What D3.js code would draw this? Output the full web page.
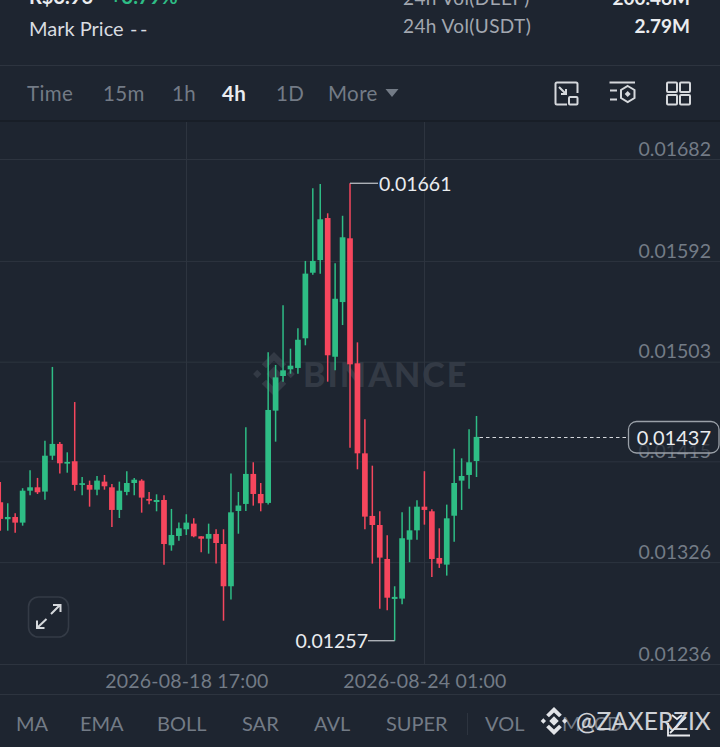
<!DOCTYPE html>
<html>
<head>
<meta charset="utf-8">
<script src="https://cdn.jsdelivr.net/npm/d3@7"></script>
<style>
  html, body { margin: 0; padding: 0; background: #1e2530; }
  svg { display: block; }
  text { font-family: Lato, "Noto Sans", sans-serif; }
</style>
</head>
<body>
<svg id="chart" width="720" height="747"></svg>
<script>
/*
Candle values, one list per field, oldest first */
var opens = [0.013793,0.013643,0.013663,0.013613,0.013895,0.013925,0.013887,0.014204,0.014308,0.014134,0.014155,0.013946,0.013946,0.013904,0.013975,0.013925,0.013725,0.013884,0.013963,0.013984,0.013822,0.013795,0.013813,0.013413,0.013495,0.013554,0.013604,0.013492,0.013471,0.013513,0.013424,0.013051,0.013716,0.013778,0.014043,0.013866,0.013787,0.014602,0.014908,0.014967,0.014979,0.015241,0.01582,0.015932,0.016303,0.015078,0.015561,0.016124,0.01502,0.014225,0.013672,0.013592,0.013292,0.012939,0.012942,0.013462,0.013545,0.013754,0.013713,0.013301,0.013242,0.013674,0.013984,0.014034,0.014157];
var highs = [0.013972,0.013784,0.013696,0.013917,0.014075,0.014008,0.014337,0.014988,0.014326,0.014234,0.014678,0.014016,0.013984,0.014025,0.014034,0.013955,0.013975,0.014067,0.014008,0.013996,0.013884,0.013863,0.013855,0.013734,0.013613,0.013687,0.013651,0.013492,0.013604,0.013554,0.013554,0.014046,0.013884,0.014455,0.014146,0.013963,0.015117,0.015005,0.015532,0.015149,0.015329,0.015924,0.016565,0.016603,0.016345,0.015903,0.016323,0.01661,0.015205,0.014526,0.014116,0.013713,0.013501,0.013051,0.013704,0.013754,0.01381,0.014067,0.013731,0.013563,0.013772,0.014266,0.014181,0.014437,0.014555];
var lows = [0.013542,0.013542,0.013524,0.013586,0.013855,0.013866,0.013816,0.014167,0.014046,0.014054,0.013895,0.013855,0.013754,0.013855,0.013904,0.013575,0.013654,0.013855,0.013855,0.013701,0.013775,0.013713,0.013242,0.013365,0.013454,0.013504,0.013484,0.013351,0.013339,0.013251,0.012747,0.012933,0.013515,0.013716,0.013763,0.013713,0.013772,0.014328,0.014858,0.014928,0.014928,0.015179,0.015803,0.015812,0.014858,0.014958,0.015358,0.014275,0.014084,0.013554,0.013251,0.012853,0.012839,0.01257,0.012892,0.013263,0.013462,0.013595,0.013133,0.013213,0.013145,0.013445,0.013725,0.013913,0.014016];
var closes = [0.013646,0.013663,0.013613,0.013895,0.013925,0.013881,0.014204,0.014308,0.014137,0.014149,0.013946,0.013961,0.013904,0.013984,0.013934,0.013725,0.013895,0.013963,0.013992,0.013834,0.013807,0.013813,0.013424,0.013504,0.013563,0.013613,0.013492,0.013471,0.013513,0.013433,0.013051,0.013704,0.013764,0.014043,0.013866,0.013784,0.014608,0.014896,0.014958,0.014999,0.015228,0.015812,0.015924,0.016292,0.015091,0.01559,0.016133,0.015011,0.014225,0.013666,0.013592,0.013304,0.01295,0.012957,0.013475,0.013545,0.013754,0.013725,0.013292,0.013251,0.013651,0.013963,0.014025,0.014146,0.01437];

/*
Axis labels */
var priceTicks = [0.01682, 0.01592, 0.01503, 0.01415, 0.01326, 0.01236];
var timeTickIndex = [25, 57];
var timeTickLabels = ["2026-08-18 17:00", "2026-08-24 01:00"];
var highestIndex = 47, lowestIndex = 53;

var tabs = ["Time", "15m", "1h", "4h", "1D", "More"];
var tabX = [27, 103, 172, 222, 276, 328];
var indicators = ["MA", "EMA", "BOLL", "SAR", "AVL", "SUPER", "VOL", "MACD"];
var indicatorX = [16, 80, 157, 242, 314, 386, 485, 562];

var BG = "#1e2530", GRID = "#2d343f", GREEN = "#2ebd85", RED = "#f6465d";

var svg = d3.select("#chart");
svg.append("rect").attr("width", 720).attr("height", 747).attr("fill", BG);

/* scales: candle index to x, price to y */
var x = d3.scaleLinear().domain([0, 64]).range([0.3, 476.5]);
var y = d3.scaleLinear().domain([0.01682, 0.01236]).range([159.5, 664.5]);

function label(parent, text, px, py, size, color, weight, anchor) {
	return parent.append("text").text(text).attr("x", px).attr("y", py)
		.attr("font-size", size).attr("fill", color)
		.attr("font-weight", weight || 400)
		.attr("text-anchor", anchor || "start");
}

/* ---- header, clipped off by the top of the photo ---- */
label(svg, "R$3.96", 29, 4, 20, "#eaecef", 700);
label(svg, "+3.79%", 110, 4, 20, GREEN, 700);
label(svg, "24h Vol(DEEP)", 403, 5, 19, "#a3a8b0").attr("letter-spacing", 0.4);
label(svg, "200.46M", 690, 5, 19, "#eaecef", 700, "end");
label(svg, "Mark Price", 29, 36, 20, "#d9dce0");
label(svg, "--", 130, 36, 20, "#d9dce0").attr("letter-spacing", 2.5);
label(svg, "24h Vol(USDT)", 403, 33, 19, "#a3a8b0").attr("letter-spacing", 0.4);
label(svg, "2.79M", 690, 33, 19, "#eaecef", 700, "end");

/* ---- separators ---- */
var seps = svg.append("g").attr("stroke", GRID);
[65.5, 694.5].forEach(function(py) {
	seps.append("line").attr("x1", 0).attr("x2", 720).attr("y1", py).attr("y2", py);
});
seps.append("line").attr("x1", 0).attr("x2", 720).attr("y1", 121).attr("y2", 121)
	.attr("stroke", "#181e27").attr("stroke-width", 2);

/* ---- timeframe tabs ---- */
tabs.forEach(function(t, i) {
	var active = t === "4h";
	label(svg, t, tabX[i], 101, 20.5, active ? "#eaecef" : "#737b86", active ? 700 : 400)
		.attr("letter-spacing", 0.4);
});
svg.append("path").attr("d", "M385.5 89 L398.5 89 L392 97 Z").attr("fill", "#737b86");

/* ---- toolbar icons ---- */
var icons = svg.append("g").attr("fill", "none").attr("stroke", "#d5d8dc").attr("stroke-width", 2);
icons.append("path").attr("d", "M567 104.5 H557 Q555.5 104.5 555.5 103 V84 Q555.5 82.5 557 82.5 H576 Q577.5 82.5 577.5 84 V93");
icons.append("rect").attr("x", 569).attr("y", 97).attr("width", 8.5).attr("height", 7.5).attr("rx", 1);
icons.append("path").attr("d", "M559 87 L566 94 M566 89 V94 H561");
icons.append("path").attr("d", "M609.5 82.5 H635 M610 90.5 H617 M610 99.5 H617");
icons.append("path").attr("d", "M627.7 86 L634.5 90 V98 L627.7 102 L621 98 V90 Z");
icons.append("path").attr("d", "M627.7 91 L630.7 94 L627.7 97 L624.7 94 Z").attr("fill", "#d5d8dc").attr("stroke", "none");
[667, 680].forEach(function(px) {
	[82.5, 95].forEach(function(py) {
		icons.append("rect").attr("x", px).attr("y", py).attr("width", 10).attr("height", 9.5).attr("rx", 1);
	});
});

/* ---- gridlines ---- */
var grid = svg.append("g").attr("stroke", GRID).attr("stroke-width", 1);
grid.selectAll(".h").data(priceTicks).enter().append("line").attr("class", "h")
	.attr("x1", 0).attr("x2", 720)
	.attr("y1", function(d) { return y(d); })
	.attr("y2", function(d) { return y(d); });
grid.selectAll(".v").data(timeTickIndex).enter().append("line").attr("class", "v")
	.attr("y1", 122).attr("y2", 665)
	.attr("x1", function(d) { return Math.round(x(d)) + 0.5; })
	.attr("x2", function(d) { return Math.round(x(d)) + 0.5; });

/* ---- watermark under the candles ---- */
var mark = "#333a45";
function binanceLogo(parent, cx, cy, s, fill, opacity) {
	var g = parent.append("g").attr("transform", "translate(" + cx + "," + cy + ") scale(" + s + ")")
		.attr("fill", fill).attr("opacity", opacity || 1);
	[[0, 0, 3.4], [-7.6, 0, 1.9], [7.6, 0, 1.9]].forEach(function(p) {
		g.append("path").attr("d", "M" + p[0] + " " + (p[1] - p[2]) + " L" + (p[0] + p[2]) + " " + p[1] +
			" L" + p[0] + " " + (p[1] + p[2]) + " L" + (p[0] - p[2]) + " " + p[1] + " Z");
	});
	g.append("path").attr("d", "M0 -10 L5.6 -4.4 L3.6 -2.6 L0 -6 L-3.6 -2.6 L-5.6 -4.4 Z");
	g.append("path").attr("d", "M0 10 L5.6 4.4 L3.6 2.6 L0 6 L-3.6 2.6 L-5.6 4.4 Z");
}
binanceLogo(svg, 274, 374, 2.2, mark);
label(svg, "BINANCE", 303, 387, 34, mark, 900).attr("letter-spacing", 2);

/* ---- candles ---- */
var candles = d3.range(opens.length);
function colour(i) { return closes[i] >= opens[i] ? GREEN : RED; }

var c = svg.append("g").selectAll("g").data(candles).enter().append("g");
c.append("line")
	.attr("x1", function(i) { return x(i); }).attr("x2", function(i) { return x(i); })
	.attr("y1", function(i) { return y(highs[i]); })
	.attr("y2", function(i) { return y(lows[i]); })
	.attr("stroke", colour).attr("stroke-width", 1.5);
c.append("rect")
	.attr("x", function(i) { return x(i) - 2.85; })
	.attr("width", 5.7)
	.attr("y", function(i) { return y(Math.max(opens[i], closes[i])); })
	.attr("height", function(i) { return Math.max(1.5, Math.abs(y(opens[i]) - y(closes[i]))); })
	.attr("fill", colour);

/* ---- price axis, labels sit above their gridline ---- */
var axis = svg.append("g").attr("transform", "translate(711,0)")
	.call(d3.axisRight(y).tickValues(priceTicks).tickFormat(d3.format(".5f")).tickSize(0));
axis.select(".domain").remove();
axis.selectAll("text").attr("x", 0).attr("dy", -4.2).attr("text-anchor", "end")
	.attr("font-size", 19.5).attr("font-family", "Lato").attr("fill", "#737b86");

/* ---- time axis ---- */
var tAxis = svg.append("g").attr("transform", "translate(0,674)")
	.call(d3.axisBottom(x).tickValues(timeTickIndex)
		.tickFormat(function(d) { return timeTickLabels[timeTickIndex.indexOf(d)]; }).tickSize(0));
tAxis.select(".domain").remove();
tAxis.selectAll("text").attr("y", 0).attr("dy", "0.71em").attr("letter-spacing", 0.2)
	.attr("font-size", 19.5).attr("font-family", "Lato").attr("fill", "#737b86");

/* ---- high / low callouts ---- */
var hi = y(highs[highestIndex]), lo = y(lows[lowestIndex]);
svg.append("line").attr("x1", x(highestIndex)).attr("x2", 378).attr("y1", hi).attr("y2", hi).attr("stroke", "#b8bcc2").attr("stroke-width", 1.3);
label(svg, d3.format(".5f")(highs[highestIndex]), 379, hi + 7.5, 19.5, "#eaecef");
svg.append("line").attr("x1", 368).attr("x2", x(lowestIndex)).attr("y1", lo).attr("y2", lo).attr("stroke", "#b8bcc2").attr("stroke-width", 1.3);
label(svg, d3.format(".5f")(lows[lowestIndex]), 368, lo + 7, 19.5, "#eaecef", 400, "end");

/* ---- current price ---- */
var last = closes[closes.length - 1];
var ly = Math.round(y(last)) + 0.5;
svg.append("line").attr("x1", x(64) + 3).attr("x2", 628).attr("y1", ly).attr("y2", ly)
	.attr("stroke", "#d5d8dc").attr("stroke-dasharray", "3.5 3");
svg.append("rect").attr("x", 628.5).attr("y", 421.5).attr("width", 90.5).attr("height", 31.5).attr("rx", 8)
	.attr("fill", BG).attr("fill-opacity", 0.72).attr("stroke", "#9aa0a8").attr("stroke-width", 1.3);
label(svg, d3.format(".5f")(last), 711, 445, 20, "#eaecef", 400, "end");

/* ---- expand button ---- */
svg.append("rect").attr("x", 28.5).attr("y", 597).attr("width", 40).attr("height", 40).attr("rx", 10)
	.attr("fill", "none").attr("stroke", "#343b46").attr("stroke-width", 1.6);
svg.append("path").attr("d", "M51 614 L60 605 M53 605 H60.5 V612 M46.5 619 L37 628 M37 620.5 V628 H44.5")
	.attr("fill", "none").attr("stroke", "#d5d8dc").attr("stroke-width", 2);

/* ---- indicator row ---- */
indicators.forEach(function(t, i) {
	label(svg, t, indicatorX[i], 731, 20, "#737b86");
});
svg.append("line").attr("x1", 467.5).attr("x2", 467.5).attr("y1", 713).attr("y2", 735).attr("stroke", GRID);

/* chart icon at the corner, half covered by the tag */
svg.append("path").attr("d", "M668 723 V735.5 H690 M670 733 L686 717 M672 715 L677 719 L682 715")
	.attr("fill", "none").attr("stroke", "#eaecef").attr("stroke-width", 1.8);

/* ---- author tag over the bottom row ---- */
binanceLogo(svg, 554, 721, 1.4, "#e2e4e8");
label(svg, "@ZAXERZIX", 576, 730, 24.5, "#e2e4e8", 400).attr("opacity", 0.9);
</script>
</body>
</html>
